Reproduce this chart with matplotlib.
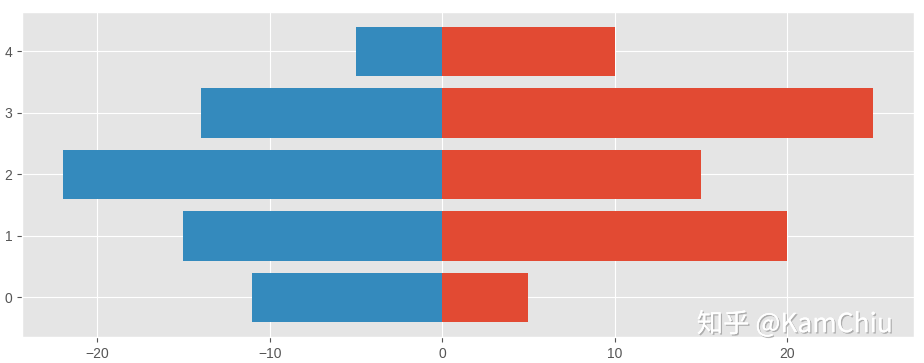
import matplotlib
matplotlib.use("Agg")
import matplotlib.pyplot as plt
import matplotlib.patheffects as pe

plt.style.use("ggplot")
plt.rcParams['font.family'] = ['Liberation Sans', 'Noto Sans CJK SC', 'DejaVu Sans']
plt.rcParams['axes.unicode_minus'] = False

categories = [0, 1, 2, 3, 4]
pos_values = [5, 20, 15, 25, 10]
neg_values = [-11, -15, -22, -14, -5]
watermark = "知乎 @KamChiu"

fig = plt.figure(figsize=(9.24, 3.63), dpi=100)
ax = fig.add_subplot(111)
fig.subplots_adjust(left=0.024, right=0.989, top=0.967, bottom=0.072)

ax.barh(categories, pos_values, color='#E24A33')
ax.barh(categories, neg_values, color='#348ABD')
ax.tick_params(labelsize=10, colors='#555555')
ax.set_xticks([-20, -10, 0, 10, 20])
ax.set_xticklabels(['−20', '−10', '0', '10', '20'])

fig.text(0.754, 0.085, watermark, fontsize=19, color='white',
         family=['Noto Sans CJK SC', 'DejaVu Sans'],
         path_effects=[pe.withSimplePatchShadow(offset=(1, -1), shadow_rgbFace='#888888', alpha=0.6), pe.Normal()])

fig.savefig("out.png", dpi=100)
